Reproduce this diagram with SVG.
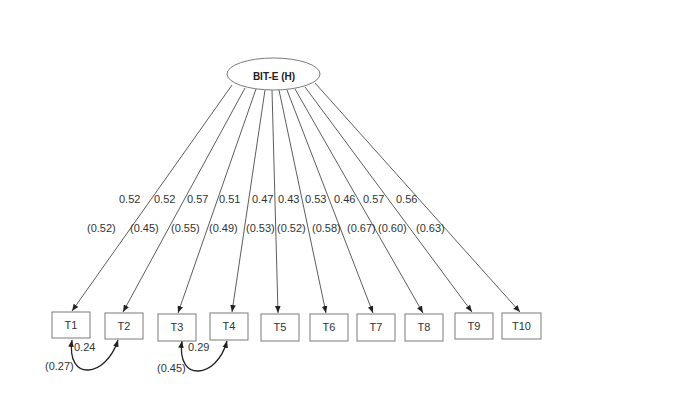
<svg xmlns="http://www.w3.org/2000/svg" width="685" height="411" viewBox="0 0 685 411">
<style>
.bg{fill:#fff}
.box{fill:#fff;stroke:#7a7a7a;stroke-width:1}
.lbl{font-family:"Liberation Sans",Arial,sans-serif;font-size:11px;fill:#333}
.c{text-anchor:middle}
.line{stroke:#333;stroke-width:0.8;fill:none;marker-end:url(#ah)}
.cov{stroke:#222;stroke-width:1.3;fill:none;marker-start:url(#ahs);marker-end:url(#ah)}
</style>
<defs>
<marker id="ah" viewBox="0 0 10 10" refX="10" refY="5" markerWidth="7" markerHeight="7" markerUnits="userSpaceOnUse" orient="auto"><path d="M0,1 L10,5 L0,9 z" fill="#222"/></marker>
<marker id="ahs" viewBox="0 0 10 10" refX="0" refY="5" markerWidth="7" markerHeight="7" markerUnits="userSpaceOnUse" orient="auto"><path d="M10,1 L0,5 L10,9 z" fill="#222"/></marker>
</defs>
<rect class="bg" x="0" y="0" width="685" height="411"/>
<g id="connectors">
<line class="line" x1="232" y1="85" x2="72" y2="311"/>
<line class="line" x1="245" y1="88" x2="123" y2="312"/>
<line class="line" x1="256" y1="89" x2="178" y2="313"/>
<line class="line" x1="265" y1="90" x2="232" y2="312"/>
<line class="line" x1="272" y1="90" x2="278" y2="313"/>
<line class="line" x1="279" y1="90" x2="326" y2="313"/>
<line class="line" x1="287" y1="90" x2="373" y2="313"/>
<line class="line" x1="295" y1="89" x2="423" y2="313"/>
<line class="line" x1="305" y1="87" x2="472" y2="312"/>
<line class="line" x1="315" y1="83" x2="520" y2="312"/>
<path class="cov" d="M72,340 C66,382 106,378 118,340"/>
<path class="cov" d="M182,341 C176,383 217,379 227,341"/>
</g>
<g id="latent">
<ellipse cx="273.5" cy="74" rx="46.5" ry="16" fill="#fff" stroke="#7a7a7a" stroke-width="1"/>
<text class="lbl c" x="274" y="79.5" style="font-size:10px;font-weight:bold;fill:#222">BIT-E (H)</text>
</g>
<g id="T1"><rect class="box" x="52" y="312" width="38" height="26"/><text class="lbl c" x="71" y="329">T1</text></g>
<g id="T2"><rect class="box" x="105" y="313" width="38" height="26"/><text class="lbl c" x="124" y="330">T2</text></g>
<g id="T3"><rect class="box" x="158" y="314" width="38" height="27"/><text class="lbl c" x="177" y="331">T3</text></g>
<g id="T4"><rect class="box" x="210" y="313" width="38" height="27"/><text class="lbl c" x="229" y="330">T4</text></g>
<g id="T5"><rect class="box" x="261" y="314" width="38" height="27"/><text class="lbl c" x="280" y="331">T5</text></g>
<g id="T6"><rect class="box" x="310" y="314" width="38" height="27"/><text class="lbl c" x="329" y="331">T6</text></g>
<g id="T7"><rect class="box" x="357" y="314" width="38" height="27"/><text class="lbl c" x="376" y="331">T7</text></g>
<g id="T8"><rect class="box" x="405" y="314" width="38" height="27"/><text class="lbl c" x="424" y="331">T8</text></g>
<g id="T9"><rect class="box" x="455" y="313" width="38" height="26"/><text class="lbl c" x="474" y="330">T9</text></g>
<g id="T10"><rect class="box" x="502" y="313" width="39" height="26"/><text class="lbl c" x="521.5" y="330">T10</text></g>
<g id="labels">
<text class="lbl" x="119" y="203">0.52</text>
<text class="lbl" x="154" y="203">0.52</text>
<text class="lbl" x="187" y="203">0.57</text>
<text class="lbl" x="219" y="203">0.51</text>
<text class="lbl" x="252" y="203">0.47</text>
<text class="lbl" x="278" y="203">0.43</text>
<text class="lbl" x="305" y="203">0.53</text>
<text class="lbl" x="334" y="203">0.46</text>
<text class="lbl" x="363" y="203">0.57</text>
<text class="lbl" x="396" y="203">0.56</text>
<text class="lbl" x="87" y="232">(0.52)</text>
<text class="lbl" x="130" y="232">(0.45)</text>
<text class="lbl" x="171" y="232">(0.55)</text>
<text class="lbl" x="209" y="232">(0.49)</text>
<text class="lbl" x="246" y="232">(0.53)</text>
<text class="lbl" x="277" y="232">(0.52)</text>
<text class="lbl" x="312" y="232">(0.58)</text>
<text class="lbl" x="347" y="232">(0.67)</text>
<text class="lbl" x="378" y="232">(0.60)</text>
<text class="lbl" x="416" y="232">(0.63)</text>
<text class="lbl" x="74" y="351">0.24</text>
<text class="lbl" x="45" y="370">(0.27)</text>
<text class="lbl" x="188" y="351">0.29</text>
<text class="lbl" x="157" y="372">(0.45)</text>
</g>
</svg>
